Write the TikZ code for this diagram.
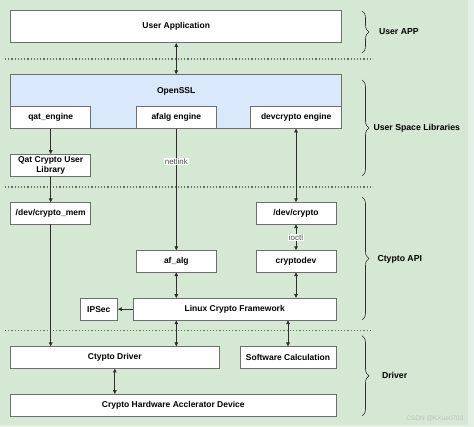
\documentclass[tikz,border=0pt]{standalone}
\usepackage{fontspec}
\setmainfont{Liberation Sans}
\usetikzlibrary{arrows.meta,decorations.pathreplacing}
\definecolor{bggreen}{HTML}{D5E8D4}
\definecolor{bgedge}{HTML}{E6EFE4}
\definecolor{boxline}{HTML}{6E6E6E}
\definecolor{ossl}{HTML}{DAE8FC}
\definecolor{lin}{HTML}{2E2E2E}
\begin{document}
\begin{tikzpicture}[x=1pt,y=-1pt,
  box/.style={draw=boxline,line width=0.8pt,fill=white,inner sep=0pt,font=\bfseries\fontsize{8.5}{9.6}\selectfont,align=center},
  conn/.style={draw=lin,line width=0.65pt},
  both/.style={conn,{Triangle[length=3.8pt,width=3.6pt]}-{Triangle[length=3.8pt,width=3.6pt]}},
  one/.style={conn,-{Triangle[length=3.8pt,width=3.6pt]}},
  sep/.style={draw=boxline,line width=1.1pt,dash pattern=on 1.1pt off 2.1pt},
  brc/.style={draw=lin,line width=0.6pt,decorate,decoration={brace,amplitude=7pt}},
  lay/.style={font=\bfseries\fontsize{8.7}{9.6}\selectfont,anchor=west},
  elab/.style={fill=white,inner sep=0.8pt,text=black!70,font=\fontsize{7.9}{9}\selectfont}
]
\useasboundingbox (0,0) rectangle (474,427);
\fill[bgedge] (0,0) rectangle (474,427);
\fill[bggreen] (0,0) rectangle (468,425);

% separators
\draw[sep] (5,59) -- (373,59);
\draw[sep] (5,187) -- (373,187);
\draw[sep] (5,330.7) -- (373,330.7);

% boxes
\node[box,minimum width=331pt,minimum height=32pt] (app) at (176.2,26.7) {User Application};
\node[draw=boxline,line width=0.8pt,fill=ossl,minimum width=331pt,minimum height=53.5pt,inner sep=0pt] (ossl) at (176.2,101.4) {};
\node[font=\bfseries\fontsize{8.5}{9.6}\selectfont] (osslt) at (176.2,91.5) {OpenSSL};
\node[box,minimum width=80pt,minimum height=21.6pt] (qat) at (50.7,117.5) {qat\_engine};
\node[box,minimum width=80.7pt,minimum height=21.6pt] (afalg) at (176.3,117.5) {afalg engine};
\node[box,minimum width=91pt,minimum height=21.6pt] (devc) at (296.2,117.5) {devcrypto engine};
\node[box,minimum width=80pt,minimum height=21.7pt] (qlib) at (50.7,165.2) {Qat Crypto User\\Library};
\node[box,minimum width=80pt,minimum height=21.3pt] (mem) at (50.7,213.3) {/dev/crypto\_mem};
\node[box,minimum width=80pt,minimum height=21.3pt] (dev) at (296,213.3) {/dev/crypto};
\node[box,minimum width=80.7pt,minimum height=21.3pt] (afa) at (176.3,261.3) {af\_alg};
\node[box,minimum width=80pt,minimum height=21.3pt] (cdev) at (296,261.3) {cryptodev};
\node[box,minimum width=202.7pt,minimum height=21.7pt] (lcf) at (234.7,309.2) {Linux Crypto Framework};
\node[box,minimum width=37.7pt,minimum height=21.7pt] (ips) at (98.8,309.2) {IPSec};
\node[box,minimum width=208.3pt,minimum height=21.6pt] (drv) at (114.8,357.5) {Ctypto Driver};
\node[box,minimum width=96pt,minimum height=21.6pt] (sw) at (288,357.5) {Software Calculation};
\node[box,minimum width=325.3pt,minimum height=21.7pt] (hw) at (173.3,405.2) {Crypto Hardware Acclerator Device};

% connectors
\draw[both] (app.south) -- (ossl.north);
\draw[one] (qat.south) -- (qlib.north);
\draw[one] (qlib.south) -- (mem.north);
\draw[one] (afalg.south -| afa.north) -- node[elab,pos=0.27] (nl) {netlink} (afa.north);
\draw[both] (devc.south -| dev.north) -- (dev.north);
\draw[both] (dev.south) -- node[elab] (io) {ioctl} (cdev.north);
\draw[one] (mem.south) -- (drv.north -| mem.south);
\draw[both] (afa.south) -- (lcf.north -| afa.south);
\draw[both] (cdev.south) -- (lcf.north -| cdev.south);
\draw[one] (lcf.west) -- (ips.east);
\draw[both] (lcf.south -| afa.south) -- (drv.north -| afa.south);
\draw[both] (lcf.south -| sw.north) -- (sw.north);
\draw[both] (drv.south) -- (hw.north -| drv.south);

% braces and layer labels
\draw[brc] (362,11) -- (362,53);
\node[lay] (l1) at (375.5,32) {User APP};
\draw[brc] (362,80) -- (362,176);
\node[lay] (l2) at (370,128) {User Space Libraries};
\draw[brc] (362,197) -- (362,320);
\node[lay] (l3) at (374,259) {Ctypto API};
\draw[brc] (362,335.7) -- (362,416);
\node[lay] (l4) at (378.5,375.7) {Driver};

\node[text=black!25,font=\fontsize{6.5}{7}\selectfont,anchor=east] (wm) at (467,418.5) {CSDN @KXue0703};
\end{tikzpicture}
\end{document}
